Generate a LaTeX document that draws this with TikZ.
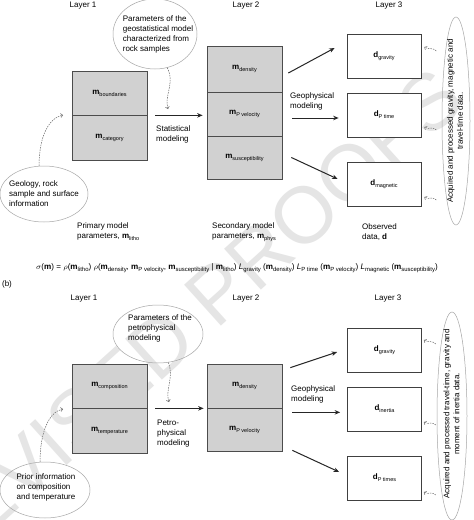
\documentclass[tikz,border=0pt]{standalone}
\usepackage{fontspec}
\setmainfont{Liberation Sans}
\usetikzlibrary{shapes.geometric,arrows.meta,calc}
\newcommand\vsb[1]{\raisebox{-0.5ex}{\fontsize{5.5}{6}\selectfont #1}}
\newcommand\mv[1]{\textbf{m}\vsb{#1}}
\newcommand\dv[1]{\textbf{d}\vsb{#1}}
\begin{document}
\begin{tikzpicture}[x=1pt,y=-1pt,
  every node/.style={font=\fontsize{8}{10}\selectfont, inner sep=0pt},
  lbl/.style={align=left},
  gbox/.style={draw=black!70, fill=black!18, line width=0.7pt, minimum width=75pt, minimum height=44pt},
  dbox/.style={draw=black!75, fill=white, line width=0.7pt, minimum width=74pt, minimum height=44pt},
  ell/.style={ellipse, draw=black!35, line width=0.5pt},
  arr/.style={-{Stealth[length=5.5pt,width=4.5pt]}, line width=1pt, black!85},
  darr/.style={dash pattern=on 1.5pt off 1pt, black!60, line width=0.5pt, -{Straight Barb[length=2pt,width=4pt]}},
]
\useasboundingbox (0,0) rectangle (474,520);
\fill[white] (0,0) rectangle (474,520);
% watermark
\node[rotate=42, text=black!10, font=\fontsize{80}{80}\selectfont] (wm) at (185,322) {REVISED PROOFS};

% ---------- part (a)
\node (la1) at (83,6) {Layer 1};
\node (la2) at (246,6) {Layer 2};
\node (la3) at (389,6) {Layer 3};

\node[ell, minimum width=84pt, minimum height=70pt] (pa) at (155,34) {};
\node[lbl] (pat) at (158,34) {Parameters of the\\geostatistical model\\characterized from\\rock samples};

\node[gbox] (a1t) at (109.5,93) {\mv{boundaries}};
\node[gbox, minimum height=45pt] (a1b) at (109.5,137.5) {\mv{category}};
\node[gbox, minimum height=46pt] (a2d) at (244.5,69) {\mv{density}};
\node[gbox] (a2v) at (244.5,114) {\mv{P velocity}};
\node[gbox, minimum height=43pt] (a2s) at (244.5,157.5) {\mv{susceptibility}};
\node[dbox] (a3g) at (384,56) {\dv{gravity}};
\node[dbox] (a3p) at (384,115) {\dv{P time}};
\node[dbox] (a3m) at (384,184) {\dv{magnetic}};

\node[ell, minimum width=28pt, minimum height=208pt] (ra) at (456,121) {};
\node[rotate=90, align=center] (rat) at (455,121) {Acquired and processed gravity, magnetic and\\travel-time data.};

\node[ell, minimum width=88pt, minimum height=56pt] (ga) at (44,194) {};
\node[lbl] (gat) at (44,194) {Geology, rock\\sample and surface\\information};

\node[lbl, anchor=west] (sma) at (156,134.5) {Statistical\\modeling};
\node[lbl, anchor=west] (gma) at (290,101) {Geophysical\\modeling};
\node[lbl, anchor=west] (pma) at (77,232) {Primary model\\parameters, \mv{litho}};
\node[lbl, anchor=west] (sea) at (212,232) {Secondary model\\parameters, \mv{phys}};
\node[lbl, anchor=west] (oda) at (362,232) {Observed\\data, \textbf{d}};

\draw[arr] ($(a1t.south east)+(8,0)$) -- ($(a2v.west |- a1t.south east)+(-4,0)$);
\draw[arr] ($(a2d.east)+(6,4)$) -- ($(a3g.west)+(-12,-8)$);
\draw[arr] ($(a2v.east)+(10,4)$) -- ($(a3p.west |- a2v.east)+(-8,4)$);
\draw[arr] ($(a2s.east)+(9,0)$) -- ($(a3m.west)+(-9,-5)$);

\coordinate (pae) at (168,109);
\draw[darr] (pa.-70) .. controls +(8,16) and +(-4,-14) .. (pae);
\coordinate (gae) at (63,115);
\draw[darr] (ga.100) .. controls +(0,-30) and +(-14,3) .. (gae);

\draw[darr] ($(a3g.east)+(15,-5)$) .. controls +(-4,-4) and +(5,3) .. ($(a3g.east)+(3,-9)$);
\draw[darr] ($(a3p.east)+(15,15)$) .. controls +(-4,-4) and +(5,3) .. ($(a3p.east)+(3,12)$);
\draw[darr] ($(a3m.east)+(15,16)$) .. controls +(-4,-4) and +(5,3) .. ($(a3m.east)+(3,13)$);

% equation
\node[font=\fontsize{7.5}{9}\selectfont, scale=1.08] (eq) at (237,268) {$\sigma$(\textbf{m}) = $\rho$(\mv{litho}) $\rho$(\mv{density}, \mv{P velocity}, \mv{susceptibility} | \mv{litho}) \textit{L}\vsb{gravity} (\mv{density}) \textit{L}\vsb{P time} (\mv{P velocity}) \textit{L}\vsb{magnetic} (\mv{susceptibility})};

\node (lb) at (7,284) {(b)};

% ---------- part (b)
\node (lb1) at (84,299) {Layer 1};
\node (lb2) at (246,299) {Layer 2};
\node (lb3) at (388,299) {Layer 3};

\node[ell, minimum width=90pt, minimum height=58pt] (pb) at (158,334) {};
\node[lbl] (pbt) at (160,328) {Parameters of the\\petrophysical\\modeling};

\node[gbox] (b1t) at (109.5,386) {\mv{composition}};
\node[gbox, minimum height=45pt] (b1b) at (109.5,430.5) {\mv{temperature}};
\node[gbox] (b2d) at (244.5,386) {\mv{density}};
\node[gbox, minimum height=43pt] (b2v) at (244.5,429.5) {\mv{P velocity}};
\node[dbox] (b3g) at (384.5,350) {\dv{gravity}};
\node[dbox] (b3i) at (384.5,409) {\dv{inertia}};
\node[dbox] (b3p) at (384.5,478) {\dv{P times}};

\node[ell, minimum width=30pt, minimum height=208pt] (rb) at (452,416) {};
\node[rotate=90, align=center] (rbt) at (451.5,414) {Acquired and processed travel-time, gravity and\\moment of inertia data.};

\node[ell, minimum width=90pt, minimum height=56pt] (gb) at (45,490) {};
\node[lbl] (gbt) at (46,487) {Prior information\\on composition\\and temperature};

\node[lbl, anchor=west] (pmb) at (157,434) {Petro-\\physical\\modeling};
\node[lbl, anchor=west] (gmb) at (291,394.5) {Geophysical\\modeling};

\draw[arr] ($(b1t.south east)+(8,0)$) -- ($(b2v.west |- b1t.south east)+(-3,0)$);
\draw[arr] ($(b2d.north east)+(8,4)$) -- ($(b3g.west)+(-10,2)$);
\draw[arr] ($(b2d.south east)+(10,4)$) -- ($(b3i.west |- b2d.south east)+(-7,4)$);
\draw[arr] ($(b2v.south east)+(10,-1)$) -- ($(b3p.west)+(-8,-6)$);

\coordinate (pbe) at (169,402);
\draw[darr] (pb.-70) .. controls +(6,14) and +(-4,-12) .. (pbe);
\coordinate (gbe) at (63,409);
\draw[darr] (gb.100) .. controls +(0,-30) and +(-14,3) .. (gbe);

\draw[darr] ($(b3g.east)+(14,-6)$) .. controls +(-4,-4) and +(5,3) .. ($(b3g.east)+(2,-10)$);
\draw[darr] ($(b3i.east)+(14,16)$) .. controls +(-4,-4) and +(5,3) .. ($(b3i.east)+(2,13)$);
\draw[darr] ($(b3p.east)+(14,17)$) .. controls +(-4,-4) and +(5,3) .. ($(b3p.east)+(2,14)$);
\end{tikzpicture}
\end{document}
